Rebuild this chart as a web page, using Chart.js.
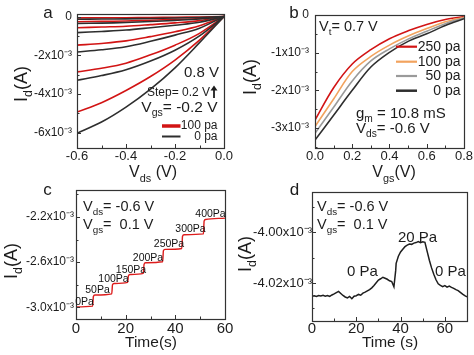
<!DOCTYPE html>
<html><head><meta charset="utf-8">
<script src="https://cdn.jsdelivr.net/npm/chart.js@4/dist/chart.umd.min.js"></script>
<style>
html,body{margin:0;padding:0;background:#fff;}
#wrap{position:relative;width:474px;height:355px;overflow:hidden;background:#fff;}
#wrap canvas{position:absolute;left:0;top:0;}
</style></head><body>
<div id="wrap">
<canvas id="ca" width="474" height="355"></canvas>
<canvas id="cb" width="474" height="355"></canvas>
<canvas id="cc" width="474" height="355"></canvas>
<canvas id="cd" width="474" height="355"></canvas>
</div>
<script>
// ---------------- DATA ----------------
// Panel a: output curves, Id (x10^-3 A) vs Vds (V)
const aVds = [-0.6, -0.5, -0.4, -0.3, -0.2, -0.1, 0];
const aVgs = [-0.2, 0, 0.2, 0.4, 0.6, 0.8];
const a0pa_m02 = [-6.03, -5.45, -4.68, -3.75, -2.65, -1.35, 0];
const a0pa_00  = [-3.29, -3.05, -2.75, -2.30, -1.74, -1.00, 0];
const a0pa_02  = [-1.83, -1.72, -1.56, -1.28, -0.96, -0.60, 0];
const a0pa_04  = [-0.83, -0.77, -0.70, -0.58, -0.45, -0.30, 0];
const a0pa_06  = [-0.36, -0.34, -0.31, -0.26, -0.20, -0.13, 0];
const a0pa_08  = [-0.14, -0.13, -0.12, -0.10, -0.08, -0.05, 0];
const a100pa_m02 = [-4.93, -4.45, -3.82, -3.10, -2.25, -1.22, 0];
const a100pa_00  = [-2.86, -2.67, -2.41, -1.98, -1.48, -0.87, 0];
const a100pa_02  = [-1.48, -1.39, -1.26, -1.04, -0.79, -0.48, 0];
const a100pa_04  = [-0.58, -0.54, -0.50, -0.42, -0.33, -0.21, 0];
const a100pa_06  = [-0.27, -0.25, -0.23, -0.19, -0.15, -0.10, 0];
const a100pa_08  = [-0.07, -0.065, -0.06, -0.05, -0.04, -0.025, 0];
const aXTicks = [-0.6, -0.4, -0.2, 0];
const aXLabels = ['-0.6', '-0.4', '-0.2', '0.0'];
const aYTicks = [0, -2, -4, -6];
const aYLabels = ['0', '-2x10\u207B\u00B3', '-4x10\u207B\u00B3', '-6x10\u207B\u00B3'];

// Panel b: transfer curves, Id (x10^-3 A) vs Vgs (V)
const bVgs = [0, 0.1, 0.2, 0.3, 0.4, 0.5, 0.6, 0.7, 0.8];
const b250pa = [-2.79, -1.93, -1.30, -0.92, -0.63, -0.42, -0.25, -0.12, -0.04];
const b100pa = [-2.96, -2.23, -1.50, -1.10, -0.80, -0.56, -0.36, -0.18, -0.06];
const b50pa  = [-3.14, -2.45, -1.75, -1.22, -0.90, -0.64, -0.43, -0.23, -0.08];
const b0pa   = [-3.32, -2.66, -2.00, -1.38, -0.99, -0.70, -0.50, -0.28, -0.10];
const bXTicks = [0, 0.2, 0.4, 0.6, 0.8];
const bXLabels = ['0.0', '0.2', '0.4', '0.6', '0.8'];
const bYTicks = [0, -1, -2, -3];
const bYLabels = ['0', '-1x10\u207B\u00B3', '-2x10\u207B\u00B3', '-3x10\u207B\u00B3'];

// Panel c: step response, Id (x10^-3 A) vs time (s)
const cTime = [0, 6.7, 7.0, 7.6, 14.4, 14.7, 15.3, 20.8, 21.1, 21.7, 27.1, 27.4, 28.0, 34.9, 35.2, 35.8, 42.6, 42.9, 43.5, 51.3, 51.6, 52.2, 60];
const cId = [-2.997, -2.990, -2.905, -2.892, -2.881, -2.800, -2.789, -2.779, -2.722, -2.710, -2.700, -2.620, -2.605, -2.597, -2.500, -2.487, -2.479, -2.370, -2.357, -2.350, -2.235, -2.222, -2.210];
const cXTicks = [0, 20, 40, 60];
const cXLabels = ['0', '20', '40', '60'];
const cYTicks = [-2.2, -2.6, -3.0];
const cYLabels = ['-2.2x10\u207B\u00B3', '-2.6x10\u207B\u00B3', '-3.0x10\u207B\u00B3'];
const cStepLabels = ['0Pa', '50Pa', '100Pa', '150Pa', '200Pa', '250Pa', '300Pa', '400Pa'];

// Panel d: 20 Pa response, Id (x10^-3 A) vs time (s)
const dTime = [0,1,2,3,4,5,6,7,8,9,10,11,12,13,14,15,16,17,18,19,20,21,22,23,24,25,26,27,28,29,30,31,32,33,34,35,36,37,37.8,38,39,40,41,42,43,44,45,46,47,48,49,50,51,52,53,54,55,56,57,58,59,60,61,62,63,64,65,66,67,68,69,70];
const dId = [-4.0252,-4.0250,-4.0253,-4.0249,-4.0251,-4.0248,-4.0252,-4.0249,-4.0253,-4.0247,-4.0243,-4.0238,-4.0233,-4.0241,-4.0249,-4.0255,-4.0259,-4.0253,-4.0262,-4.0252,-4.0250,-4.0245,-4.0248,-4.0240,-4.0236,-4.0231,-4.0226,-4.0219,-4.0210,-4.0199,-4.0188,-4.0183,-4.0177,-4.0181,-4.0185,-4.0191,-4.0194,-4.0215,-4.0150,-4.0122,-4.0094,-4.0077,-4.0066,-4.0056,-4.0050,-4.0046,-4.0047,-4.0042,-4.0040,-4.0036,-4.0040,-4.0037,-4.0039,-4.0075,-4.0110,-4.0140,-4.0165,-4.0187,-4.0203,-4.0209,-4.0214,-4.0210,-4.0216,-4.0212,-4.0217,-4.0221,-4.0226,-4.0230,-4.0237,-4.0244,-4.0250,-4.0255];
const dXTicks = [0, 20, 40, 60];
const dXLabels = ['0', '20', '40', '60'];
const dYTicks = [-4.00, -4.02];
const dYLabels = ['-4.00x10\u207B\u00B3', '-4.02x10\u207B\u00B3'];

// ---------------- HELPERS ----------------
const SANS = '"Liberation Sans", Arial, Helvetica, sans-serif';
const INK = '#1c1c1c';
const RED = '#d21414', BLACK = '#2e2e2e', ORANGE = '#f2a35e', GRAY = '#9a9a9a';

function parseRich(s) {
  const out = []; const re = /([_^])\{([^}]*)\}/g; let last = 0, m;
  while ((m = re.exec(s))) {
    if (m.index > last) out.push([s.slice(last, m.index), 'n']);
    out.push([m[2], m[1] === '_' ? 'sub' : 'sup']);
    last = re.lastIndex;
  }
  if (last < s.length) out.push([s.slice(last), 'n']);
  return out;
}
function rich(ctx, x, y, s, size, align, color) {
  const parts = parseRich(s);
  let w = 0;
  const seg = parts.map(([t, m]) => {
    const fs = m === 'n' ? size : size * 0.68;
    ctx.font = fs + 'px ' + SANS;
    const ww = ctx.measureText(t).width; w += ww;
    return { t, m, fs, ww };
  });
  let cx = align === 'right' ? x - w : align === 'center' ? x - w / 2 : x;
  ctx.fillStyle = color || INK; ctx.textAlign = 'left'; ctx.textBaseline = 'middle';
  seg.forEach(g => {
    ctx.font = g.fs + 'px ' + SANS;
    const dy = g.m === 'sub' ? size * 0.36 : g.m === 'sup' ? -size * 0.38 : 0;
    ctx.fillText(g.t, cx, y + dy);
    cx += g.ww;
  });
}
function richRot(ctx, x, y, s, size) {
  ctx.save(); ctx.translate(x, y); ctx.rotate(-Math.PI / 2);
  rich(ctx, 0, 0, s, size, 'center'); ctx.restore();
}
function pts(xs, ys) { return xs.map((x, i) => ({ x, y: ys[i] })); }

const extras = {};
const decor = {
  id: 'decor',
  afterDraw(chart) {
    const ex = extras[chart.canvas.id]; if (!ex) return;
    const { ctx, chartArea: ca, scales } = chart;
    const xs = scales.x, ys = scales.y;
    ctx.save();
    ctx.strokeStyle = '#333'; ctx.lineWidth = 1;
    const drawX = (v, len) => { const p = Math.round(xs.getPixelForValue(v)) + 0.5; ctx.beginPath(); ctx.moveTo(p, ca.bottom); ctx.lineTo(p, ca.bottom - len); ctx.stroke(); };
    const drawY = (v, len) => { const p = Math.round(ys.getPixelForValue(v)) + 0.5; ctx.beginPath(); ctx.moveTo(ca.left, p); ctx.lineTo(ca.left + len, p); ctx.stroke(); };
    ex.xMajor.forEach(v => drawX(v, 4)); ex.xMinor.forEach(v => drawX(v, 2.5));
    ex.yMajor.forEach(v => drawY(v, 4)); ex.yMinor.forEach(v => drawY(v, 2.5));
    ctx.lineWidth = 1.2; ctx.strokeStyle = '#333';
    ctx.strokeRect(Math.round(ca.left) + 0.5, Math.round(ca.top) + 0.5, Math.round(ca.right - ca.left), Math.round(ca.bottom - ca.top));
    ctx.fillStyle = INK; ctx.font = '17px ' + SANS; ctx.textAlign = 'center'; ctx.textBaseline = 'middle';
    ctx.fillText(ex.letter[0], ex.letter[1], ex.letter[2]);
    rich(ctx, ex.xTitle[1], ex.xTitle[2], ex.xTitle[0], ex.xTitle[3], 'center');
    richRot(ctx, ex.yTitle[1], ex.yTitle[2], ex.yTitle[0], ex.yTitle[3]);
    if (ex.draw) ex.draw(ctx, chart);
    ctx.restore();
  }
};
Chart.register(decor);

function xScale(min, max, vals, labels, size, pad, h) {
  return {
    type: 'linear', position: 'bottom', min, max,
    afterBuildTicks: s => { s.ticks = vals.map(v => ({ value: v })); },
    afterFit: s => { s.height = h; },
    grid: { display: false, drawTicks: false }, border: { display: false },
    ticks: { autoSkip: false, maxRotation: 0, padding: pad, color: INK, font: { family: SANS, size },
      callback: v => { const i = vals.indexOf(v); return i >= 0 ? labels[i] : ''; } }
  };
}
function yScale(min, max, vals, labels, size, pad, w) {
  return {
    type: 'linear', position: 'left', min, max,
    afterBuildTicks: s => { s.ticks = vals.map(v => ({ value: v })); },
    afterFit: s => { s.width = w; },
    grid: { display: false, drawTicks: false }, border: { display: false },
    ticks: { autoSkip: false, padding: pad, color: INK, font: { family: SANS, size },
      callback: v => { const i = vals.indexOf(v); return i >= 0 ? labels[i] : ''; } }
  };
}
function make(id, datasets, scales, padding) {
  return new Chart(document.getElementById(id), {
    type: 'line',
    data: { datasets },
    options: {
      responsive: false, animation: false, devicePixelRatio: 1,
      layout: { padding },
      elements: { point: { radius: 0 } },
      plugins: { legend: { display: false }, tooltip: { enabled: false } },
      scales
    }
  });
}
function line(data, color, width, extra) {
  return Object.assign({ data, borderColor: color, borderWidth: width, fill: false, tension: 0.35, pointRadius: 0 }, extra || {});
}

// ---------------- PANEL A ----------------
extras.ca = {
  letter: ['a', 48, 13],
  xTitle: ['V_{ds} (V)', 153, 173, 16],
  yTitle: ['I_{d}(A)', 22, 84, 18],
  xMajor: aXTicks, xMinor: [-0.5, -0.3, -0.1],
  yMajor: aYTicks, yMinor: [-1, -3, -5],
  draw(ctx) {
    rich(ctx, 219, 73, '0.8 V', 15, 'right');
    rich(ctx, 147, 92.5, 'Step= 0.2 V', 12, 'left');
    ctx.strokeStyle = INK; ctx.fillStyle = INK; ctx.lineWidth = 1.8;
    ctx.beginPath(); ctx.moveTo(214, 98); ctx.lineTo(214, 89); ctx.stroke();
    ctx.beginPath(); ctx.moveTo(210.5, 90.5); ctx.lineTo(214, 85.5); ctx.lineTo(217.5, 90.5); ctx.closePath(); ctx.fill();
    rich(ctx, 217.5, 108, 'V_{gs}= -0.2 V', 15.5, 'right');
    ctx.lineWidth = 3.5; ctx.strokeStyle = RED;
    ctx.beginPath(); ctx.moveTo(162, 126); ctx.lineTo(180.5, 126); ctx.stroke();
    ctx.lineWidth = 2; ctx.strokeStyle = BLACK;
    ctx.beginPath(); ctx.moveTo(162, 136.5); ctx.lineTo(180.5, 136.5); ctx.stroke();
    rich(ctx, 217.5, 126, '100 pa', 12, 'right');
    rich(ctx, 217.5, 136.5, '0 pa', 12, 'right');
  }
};
const aBlack = [a0pa_m02, a0pa_00, a0pa_02, a0pa_04, a0pa_06, a0pa_08];
const aRed = [a100pa_m02, a100pa_00, a100pa_02, a100pa_04, a100pa_06, a100pa_08];
make('ca',
  aBlack.map(s => line(pts(aVds, s), BLACK, 1.6)).concat(aRed.map(s => line(pts(aVds, s), RED, 1.6))),
  { x: xScale(-0.6, 0, aXTicks, aXLabels, 13, 1, 20), y: yScale(-6.79, 0.13, aYTicks, aYLabels, 12, 5, 70) },
  { left: 7, right: 474 - 224, top: 14, bottom: 355 - 148 - 20 });

// ---------------- PANEL B ----------------
extras.cb = {
  letter: ['b', 294, 13],
  xTitle: ['V_{gs}(V)', 394, 173, 16],
  yTitle: ['I_{d}(A)', 251, 77, 18],
  xMajor: bXTicks, xMinor: [0.1, 0.3, 0.5, 0.7],
  yMajor: bYTicks, yMinor: [-0.5, -1.5, -2.5, -3.5],
  draw(ctx) {
    rich(ctx, 319, 27, 'V_{t}= 0.7 V', 14.5, 'left');
    const leg = [['250 pa', RED, 46.7, 2.2], ['100 pa', ORANGE, 61.7, 2.2], ['50 pa', GRAY, 76, 2.2], ['0 pa', BLACK, 90.7, 2.5]];
    leg.forEach(([t, c, y, lw]) => {
      ctx.strokeStyle = c; ctx.lineWidth = lw;
      ctx.beginPath(); ctx.moveTo(396, y); ctx.lineTo(417, y); ctx.stroke();
      rich(ctx, 460.5, y, t, 14, 'right');
    });
    rich(ctx, 356, 113.5, 'g_{m} = 10.8 mS', 15, 'left');
    rich(ctx, 356, 128.5, 'V_{ds}= -0.6 V', 15, 'left');
  }
};
make('cb',
  [line(pts(bVgs, b0pa), BLACK, 1.6), line(pts(bVgs, b50pa), GRAY, 1.6), line(pts(bVgs, b100pa), ORANGE, 1.6), line(pts(bVgs, b250pa), RED, 1.6)],
  { x: xScale(0, 0.8, bXTicks, bXLabels, 13, 1, 20), y: yScale(-3.53, 0, bYTicks, bYLabels, 12, 6, 70) },
  { left: 315 - 70, right: 474 - 465, top: 15, bottom: 355 - 148 - 20 });

// ---------------- PANEL C ----------------
const cLabelPos = [[84.5, 302], [97.5, 290], [113.5, 279], [131, 270], [148, 258], [169, 244], [190.5, 229], [210.5, 214]];
extras.cc = {
  letter: ['c', 47.5, 190],
  xTitle: ['Time(s)', 151, 343, 15.5],
  yTitle: ['I_{d}(A)', 12, 261, 18],
  xMajor: cXTicks, xMinor: [10, 30, 50],
  yMajor: cYTicks, yMinor: [-2.0, -2.4, -2.8],
  draw(ctx) {
    rich(ctx, 83, 207, 'V_{ds}= -0.6 V', 14.5, 'left');
    rich(ctx, 83, 225, 'V_{gs}=  0.1 V', 14.5, 'left');
    cStepLabels.forEach((t, i) => rich(ctx, cLabelPos[i][0], cLabelPos[i][1], t, 10.5, 'center', '#111'));
  }
};
make('cc',
  [line(pts(cTime, cId), '#dd1c1c', 1.4, { tension: 0, cubicInterpolationMode: 'monotone' })],
  { x: xScale(0, 60, cXTicks, cXLabels, 15, 1, 24), y: yScale(-3.104, -1.961, cYTicks, cYLabels, 12, 2, 70) },
  { left: 76 - 70, right: 474 - 225, top: 190, bottom: 355 - 319 - 24 });

// ---------------- PANEL D ----------------
extras.cd = {
  letter: ['d', 294.5, 190],
  xTitle: ['Time (s)', 390, 343, 15.5],
  yTitle: ['I_{d}(A)', 246, 254, 18],
  xMajor: dXTicks, xMinor: [10, 30, 50],
  yMajor: dYTicks, yMinor: [-3.99, -4.01, -4.03],
  draw(ctx) {
    rich(ctx, 317, 207, 'V_{ds}= -0.6 V', 14.5, 'left');
    rich(ctx, 317, 225, 'V_{gs}=  0.1 V', 14.5, 'left');
    rich(ctx, 417.5, 238, '20 Pa', 15, 'center');
    rich(ctx, 362.5, 272, '0 Pa', 15, 'center');
    rich(ctx, 450.5, 272, '0 Pa', 15, 'center');
  }
};
make('cd',
  [line(pts(dTime, dId), '#1e1e1e', 1.5, { tension: 0 })],
  { x: xScale(0, 70, dXTicks, dXLabels, 15, -1, 24), y: yScale(-4.035, -3.984, dYTicks, dYLabels, 13, 0, 70) },
  { left: 312 - 70, right: 474 - 467, top: 192, bottom: 355 - 321 - 24 });
</script>
</body></html>
